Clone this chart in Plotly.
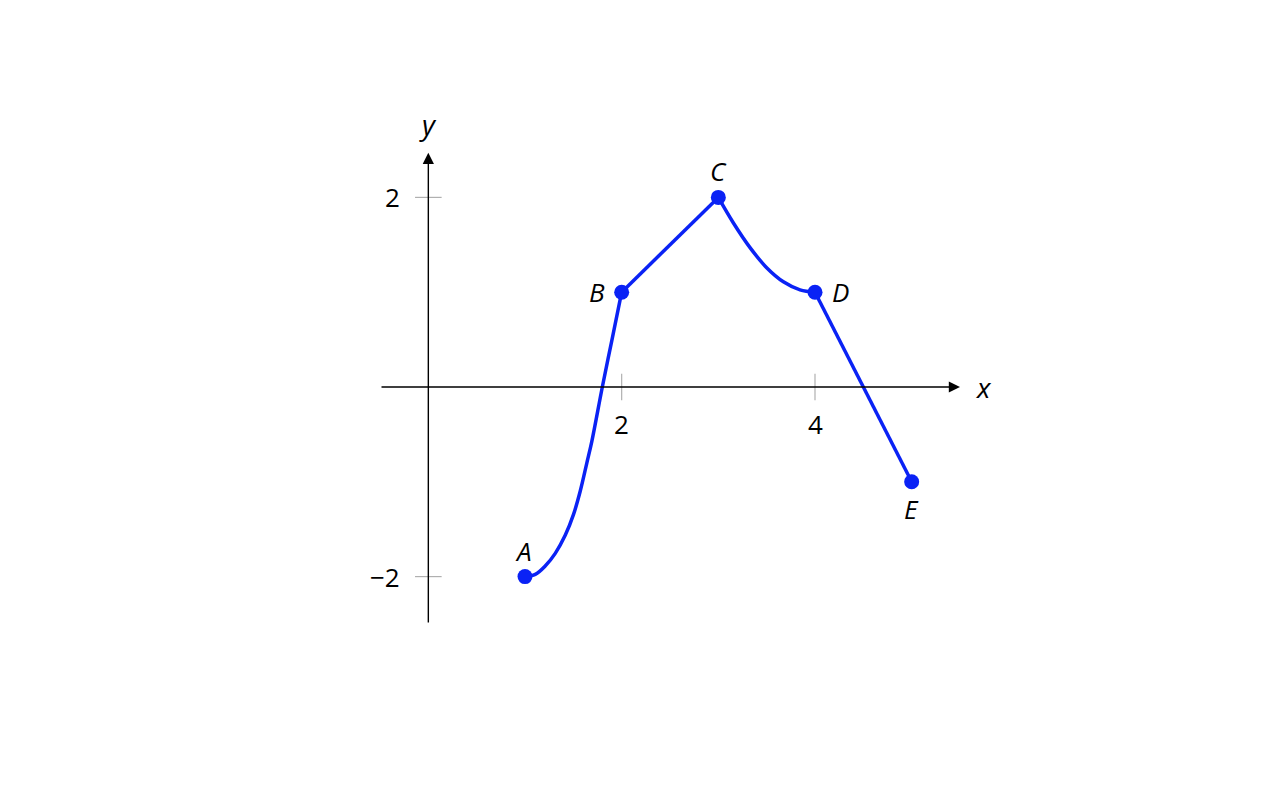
import plotly.graph_objects as go

# named points
pt_names = ["A", "B", "C", "D", "E"]
pt_x = [1, 2, 3, 4, 5]
pt_y = [-2, 1, 2, 1, -1]

# curve pieces
ab_x = [1, 1.106, 1.209, 1.313, 1.416, 1.502, 1.571, 1.640, 1.692, 1.80, 1.898, 2]
ab_y = [-2, -1.977, -1.889, -1.755, -1.565, -1.344, -1.10, -0.80, -0.57, 0, 0.49, 1]
bc_x = [2, 3]
bc_y = [1, 2]
cd_x = [3, 3.156, 3.328, 3.5, 3.673, 3.845, 4]
cd_y = [2, 1.73, 1.47, 1.259, 1.11, 1.025, 1]
de_x = [4, 5]
de_y = [1, -1]

x_ticks = [2, 4]
y_ticks = [-2, 2]
y_tick_text = ["\u22122", "2"]

blue = "#0a22f5"
font = "Open Sans"

fig = go.Figure()

# tick marks on the axes
fig.add_trace(go.Scatter(
    x=x_ticks, y=[0] * len(x_ticks), mode="markers",
    marker=dict(symbol="line-ns", size=19, line=dict(color="#b0b0b0", width=1.2)),
    hoverinfo="skip", showlegend=False, cliponaxis=False))
fig.add_trace(go.Scatter(
    x=[0] * len(y_ticks), y=y_ticks, mode="markers",
    marker=dict(symbol="line-ew", size=19, line=dict(color="#b0b0b0", width=1.2)),
    hoverinfo="skip", showlegend=False, cliponaxis=False))
for t in x_ticks:
    fig.add_annotation(x=t, y=0, text=str(t), showarrow=False, yshift=-37,
                       font=dict(family=font, size=26, color="black", weight=500))
for t, s in zip(y_ticks, y_tick_text):
    fig.add_annotation(x=0, y=t, text=s, showarrow=False, xanchor="right", xshift=-26,
                       font=dict(family=font, size=26, color="black", weight=500))

for xs, ys, shape in [(ab_x, ab_y, "spline"), (bc_x, bc_y, "linear"),
                      (cd_x, cd_y, "spline"), (de_x, de_y, "linear")]:
    fig.add_trace(go.Scatter(x=xs, y=ys, mode="lines",
                             line=dict(color=blue, width=3.5, shape=shape, smoothing=1.0),
                             showlegend=False, hoverinfo="skip"))

fig.add_trace(go.Scatter(x=pt_x, y=pt_y, mode="markers",
                         marker=dict(color=blue, size=15), showlegend=False))

# point labels
label_pos = {"A": (-2, 26), "B": (-25, 0), "C": (0, 26), "D": (25, 0), "E": (0, -27)}
for n, px, py in zip(pt_names, pt_x, pt_y):
    dx, dy = label_pos[n]
    fig.add_annotation(x=px, y=py, text="<i>" + n + "</i>", showarrow=False,
                       xshift=dx, yshift=dy, font=dict(family=font, size=26, color="black", weight=500))

# axes with arrows
fig.add_annotation(x=5.5, y=0, ax=-0.5, ay=0, xref="x", yref="y", axref="x", ayref="y",
                   showarrow=True, arrowhead=2, arrowsize=1.6, arrowwidth=1.4, arrowcolor="black", text="")
fig.add_annotation(x=0, y=2.47, ax=0, ay=-2.5, xref="x", yref="y", axref="x", ayref="y",
                   showarrow=True, arrowhead=2, arrowsize=1.6, arrowwidth=1.4, arrowcolor="black", text="")
fig.add_annotation(x=5.5, y=0, text="<i>x</i>", showarrow=False, xshift=23,
                   font=dict(family=font, size=28, color="black", weight=500))
fig.add_annotation(x=0, y=2.47, text="<i>y</i>", showarrow=False, yshift=29,
                   font=dict(family=font, size=28, color="black", weight=500))

fig.update_layout(
    width=1280, height=800,
    margin=dict(l=372, r=328, t=142, b=184),
    plot_bgcolor="white", paper_bgcolor="white",
    xaxis=dict(range=[-0.5, 5.5], visible=False),
    yaxis=dict(range=[-2.5, 2.5], visible=False),
)

fig.write_html("out.html")
